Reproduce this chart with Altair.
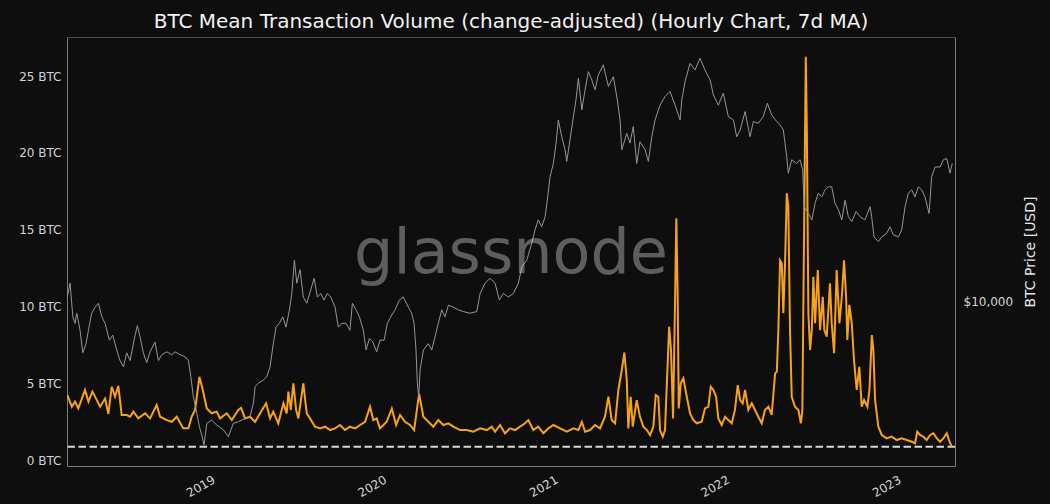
import altair as alt
import pandas as pd

# ---- data ----
title_text = "BTC Mean Transaction Volume (change-adjusted) (Hourly Chart, 7d MA)"
watermark = ["glassnode"]
year_ticks = [2019, 2020, 2021, 2022, 2023]
btc_ticks = [0, 5, 10, 15, 20, 25]
price_ticks = [10000]
baseline_btc = [0.87]

# mean transaction volume (BTC), decimal year
vol_year = [
    2018.162, 2018.188, 2018.207, 2018.226, 2018.265, 2018.285, 2018.308, 2018.334, 2018.353, 2018.382,
    2018.401, 2018.421, 2018.440, 2018.459, 2018.479, 2018.508, 2018.528, 2018.547, 2018.576, 2018.615,
    2018.644, 2018.683, 2018.703, 2018.742, 2018.771, 2018.800, 2018.838, 2018.868, 2018.887, 2018.907,
    2018.932, 2018.952, 2018.975, 2019.004, 2019.033, 2019.052, 2019.092, 2019.121, 2019.159, 2019.175,
    2019.198, 2019.227, 2019.257, 2019.286, 2019.321, 2019.344, 2019.363, 2019.392, 2019.422, 2019.441,
    2019.451, 2019.465, 2019.480, 2019.496, 2019.509, 2019.538, 2019.558, 2019.577, 2019.606, 2019.636,
    2019.665, 2019.694, 2019.723, 2019.752, 2019.781, 2019.810, 2019.840, 2019.869, 2019.898, 2019.927,
    2019.946, 2019.966, 2019.985, 2020.024, 2020.054, 2020.079, 2020.102, 2020.131, 2020.160, 2020.184,
    2020.213, 2020.238, 2020.267, 2020.296, 2020.325, 2020.355, 2020.384, 2020.413, 2020.452, 2020.491,
    2020.529, 2020.569, 2020.608, 2020.637, 2020.656, 2020.685, 2020.714, 2020.743, 2020.773, 2020.802,
    2020.831, 2020.850, 2020.879, 2020.908, 2020.938, 2020.967, 2020.996, 2021.035, 2021.074, 2021.113,
    2021.142, 2021.162, 2021.181, 2021.210, 2021.239, 2021.268, 2021.297, 2021.317, 2021.336, 2021.356,
    2021.375, 2021.395, 2021.410, 2021.424, 2021.433, 2021.447, 2021.459, 2021.482, 2021.501, 2021.521,
    2021.541, 2021.560, 2021.579, 2021.593, 2021.608, 2021.618, 2021.634, 2021.647, 2021.671, 2021.682,
    2021.694, 2021.706, 2021.713, 2021.721, 2021.727, 2021.739, 2021.754, 2021.774, 2021.793, 2021.812,
    2021.832, 2021.861, 2021.880, 2021.900, 2021.914, 2021.929, 2021.945, 2021.958, 2021.978, 2021.997,
    2022.016, 2022.036, 2022.055, 2022.071, 2022.085, 2022.100, 2022.114, 2022.133, 2022.153, 2022.172,
    2022.191, 2022.211, 2022.230, 2022.250, 2022.269, 2022.289, 2022.299, 2022.308, 2022.318, 2022.328,
    2022.337, 2022.347, 2022.357, 2022.366, 2022.376, 2022.386, 2022.405, 2022.425, 2022.439, 2022.448,
    2022.458, 2022.468, 2022.474, 2022.483, 2022.493, 2022.503, 2022.512, 2022.522, 2022.538, 2022.551,
    2022.567, 2022.576, 2022.590, 2022.609, 2022.619, 2022.633, 2022.648, 2022.664, 2022.678, 2022.691,
    2022.703, 2022.710, 2022.722, 2022.736, 2022.749, 2022.765, 2022.780, 2022.794, 2022.808, 2022.827,
    2022.839, 2022.853, 2022.862, 2022.872, 2022.891, 2022.911, 2022.940, 2022.969, 2022.998, 2023.027,
    2023.057, 2023.086, 2023.105, 2023.118, 2023.134, 2023.153, 2023.173, 2023.193, 2023.212, 2023.232,
    2023.251, 2023.270, 2023.290, 2023.303, 2023.319,
]
vol_btc = [
    4.23, 3.47, 3.80, 3.36, 4.56, 3.80, 4.45, 3.90, 3.47, 4.00,
    3.00, 4.77, 4.12, 4.82, 2.93, 2.93, 2.82, 3.15, 2.71, 3.04,
    2.71, 3.58, 2.82, 2.60, 2.49, 2.82, 2.06, 2.06, 2.82, 3.26,
    5.42, 4.56, 3.36, 3.04, 3.15, 2.71, 3.04, 2.60, 3.26, 3.40,
    2.71, 2.82, 2.49, 3.04, 3.69, 2.71, 3.15, 2.39, 3.69, 3.04,
    4.45, 3.26, 4.99, 3.26, 2.71, 4.99, 3.04, 2.71, 2.17, 2.06,
    2.17, 1.95, 2.06, 2.28, 1.95, 2.17, 2.06, 2.28, 2.49, 3.47,
    2.60, 2.71, 2.06, 2.49, 3.36, 2.28, 2.93, 2.49, 2.28, 1.95,
    4.30, 2.82, 2.49, 2.17, 2.60, 2.28, 2.39, 2.17, 1.95, 1.95,
    1.84, 2.06, 1.95, 2.17, 1.84, 2.28, 1.74, 2.06, 1.95, 2.17,
    2.39, 2.60, 1.95, 2.17, 1.74, 2.06, 2.28, 2.06, 1.84, 2.06,
    1.95, 2.49, 1.84, 1.95, 2.28, 2.06, 2.82, 4.12, 2.60, 2.39,
    4.56, 5.86, 6.99, 5.21, 2.06, 4.12, 2.17, 3.90, 2.82, 2.17,
    1.95, 1.63, 2.17, 4.23, 4.12, 1.95, 1.52, 1.95, 8.68, 7.16,
    2.71, 10.63, 15.74, 10.60, 3.36, 4.99, 5.32, 4.12, 3.04, 2.60,
    2.39, 2.49, 3.36, 3.47, 4.77, 4.56, 4.12, 2.71, 2.28, 2.82,
    2.60, 2.39, 3.26, 4.88, 3.90, 3.69, 4.56, 3.26, 3.69, 3.26,
    2.82, 2.39, 3.26, 3.47, 2.93, 5.64, 5.75, 8.46, 13.00, 12.80,
    9.55, 12.80, 17.36, 16.50, 8.46, 4.12, 3.47, 3.26, 2.39, 3.26,
    14.97, 26.26, 21.50, 9.55, 7.16, 8.46, 11.93, 8.90, 12.37, 8.46,
    10.63, 8.46, 8.03, 11.50, 8.90, 6.95, 12.37, 8.90, 10.63, 13.00,
    10.63, 7.81, 10.10, 8.90, 6.51, 4.56, 6.07, 3.47, 3.90, 3.47,
    4.56, 8.14, 7.16, 3.90, 2.17, 1.63, 1.41, 1.52, 1.30, 1.41,
    1.30, 1.19, 1.09, 1.84, 1.63, 1.52, 1.30, 1.63, 1.74, 1.41,
    1.19, 1.41, 1.74, 1.30, 0.87,
]

# BTC price (USD), decimal year
price_year = [
    2018.162, 2018.178, 2018.194, 2018.207, 2018.217, 2018.236, 2018.252, 2018.271, 2018.285, 2018.304,
    2018.324, 2018.343, 2018.363, 2018.382, 2018.407, 2018.427, 2018.450, 2018.469, 2018.489, 2018.508,
    2018.528, 2018.551, 2018.570, 2018.586, 2018.605, 2018.625, 2018.644, 2018.673, 2018.693, 2018.713,
    2018.742, 2018.771, 2018.790, 2018.819, 2018.848, 2018.868, 2018.882, 2018.897, 2018.917, 2018.932,
    2018.946, 2018.959, 2018.975, 2019.004, 2019.033, 2019.072, 2019.101, 2019.130, 2019.159, 2019.198,
    2019.227, 2019.247, 2019.257, 2019.276, 2019.305, 2019.325, 2019.344, 2019.363, 2019.379, 2019.398,
    2019.418, 2019.437, 2019.457, 2019.471, 2019.486, 2019.500, 2019.519, 2019.538, 2019.558, 2019.581,
    2019.601, 2019.620, 2019.640, 2019.659, 2019.678, 2019.698, 2019.723, 2019.742, 2019.762, 2019.787,
    2019.810, 2019.824, 2019.845, 2019.865, 2019.888, 2019.904, 2019.923, 2019.943, 2019.966, 2019.985,
    2020.009, 2020.028, 2020.048, 2020.073, 2020.098, 2020.121, 2020.150, 2020.170, 2020.184, 2020.195,
    2020.203, 2020.211, 2020.219, 2020.238, 2020.267, 2020.287, 2020.306, 2020.325, 2020.345, 2020.364,
    2020.384, 2020.413, 2020.442, 2020.471, 2020.510, 2020.549, 2020.569, 2020.598, 2020.627, 2020.656,
    2020.681, 2020.704, 2020.734, 2020.763, 2020.792, 2020.812, 2020.841, 2020.870, 2020.889, 2020.908,
    2020.928, 2020.948, 2020.963, 2020.977, 2020.996, 2021.012, 2021.025, 2021.045, 2021.064, 2021.074,
    2021.093, 2021.113, 2021.128, 2021.142, 2021.162, 2021.181, 2021.200, 2021.220, 2021.239, 2021.258,
    2021.287, 2021.317, 2021.346, 2021.369, 2021.385, 2021.395, 2021.424, 2021.443, 2021.462, 2021.482,
    2021.501, 2021.531, 2021.550, 2021.570, 2021.589, 2021.618, 2021.647, 2021.676, 2021.706, 2021.735,
    2021.745, 2021.764, 2021.793, 2021.822, 2021.851, 2021.880, 2021.910, 2021.929, 2021.958, 2021.987,
    2022.016, 2022.046, 2022.065, 2022.085, 2022.114, 2022.143, 2022.162, 2022.191, 2022.220, 2022.244,
    2022.269, 2022.298, 2022.318, 2022.337, 2022.357, 2022.366, 2022.386, 2022.415, 2022.434, 2022.450,
    2022.458, 2022.483, 2022.503, 2022.522, 2022.541, 2022.561, 2022.580, 2022.600, 2022.619, 2022.638,
    2022.658, 2022.678, 2022.697, 2022.716, 2022.736, 2022.761, 2022.784, 2022.813, 2022.843, 2022.852,
    2022.866, 2022.891, 2022.911, 2022.940, 2022.959, 2022.978, 2023.008, 2023.027, 2023.047, 2023.066,
    2023.086, 2023.105, 2023.124, 2023.144, 2023.163, 2023.187, 2023.202, 2023.222, 2023.251, 2023.270,
    2023.290, 2023.309, 2023.322,
]
price_usd = [
    10400, 11600, 8900, 8450, 9150, 8000, 6700, 7200, 8000, 9150,
    9600, 9900, 8900, 8450, 7400, 7700, 6850, 6300, 6000, 6700,
    6300, 7400, 8300, 7600, 6700, 6200, 6750, 7300, 6300, 6600,
    6750, 6600, 6750, 6600, 6500, 6300, 5550, 4730, 4160, 3740,
    3500, 3240, 3840, 3940, 3790, 3650, 3460, 3840, 3890, 3990,
    4050, 4500, 5130, 5270, 5400, 5550, 6000, 7200, 8200, 8450,
    8900, 8200, 9400, 10700, 13900, 11600, 12900, 10400, 9900, 11000,
    12050, 10400, 10700, 10150, 10700, 10400, 9600, 8200, 8450, 8450,
    8000, 9900, 9400, 8900, 8000, 6850, 7500, 7300, 6750, 7400,
    7400, 8450, 8900, 9400, 10150, 10400, 9600, 9150, 8450, 6850,
    5270, 4730, 5850, 6850, 7200, 6850, 7600, 8450, 9400, 8900,
    9750, 9600, 9400, 9270, 9150, 9270, 10700, 11600, 12050, 11600,
    10150, 10700, 10400, 10700, 11600, 13200, 13900, 15900, 17650, 19100,
    18100, 19600, 22900, 26900, 29800, 35000, 42000, 36800, 33200, 30300,
    35900, 43200, 49200, 58400, 45500, 53300, 61500, 57600, 53300, 59900,
    64900, 54700, 59100, 49200, 42000, 33200, 37800, 35000, 39900, 29800,
    35400, 33200, 30300, 36800, 42000, 47200, 50500, 52600, 47200, 42000,
    49200, 56900, 65600, 62300, 68300, 62300, 57600, 51200, 47200, 51900,
    43200, 42000, 36800, 38800, 44900, 36800, 41500, 40900, 43200, 47900,
    43700, 41500, 40400, 38800, 31400, 27600, 30700, 29800, 30700, 28300,
    21200, 20100, 19100, 21800, 23600, 22900, 24200, 24800, 24800, 21800,
    20700, 19100, 22300, 19600, 18850, 20400, 19600, 19100, 21200, 19600,
    16700, 16100, 16700, 17200, 18100, 17000, 16700, 17650, 21200, 23600,
    24200, 22900, 24800, 24200, 22900, 20100, 26900, 29000, 29000, 30700,
    31000, 27600, 29800,
]

vol_df = pd.DataFrame({"year": vol_year, "btc": vol_btc})
price_df = pd.DataFrame({"year": price_year, "usd": price_usd})
base_df = pd.DataFrame({"btc": baseline_btc})
mark_df = pd.DataFrame({"w": watermark})

FONT = "DejaVu Sans"
LABEL = "#d4d4d4"
DOMAIN = "#7c7c7c"

x_scale = alt.Scale(domain=[2018.16, 2023.338], nice=False, zero=False)
vol_scale = alt.Scale(domain=[-0.39, 27.54], nice=False, zero=False)
price_scale = alt.Scale(type="log", domain=[2744, 80800], nice=False)

x_axis = alt.Axis(
    orient="bottom", values=year_ticks, format="d", labelAngle=330,
    labelAlign="right", labelBaseline="top", labelPadding=8, ticks=False,
    grid=False, title=None, labelFontSize=12, labelColor=LABEL,
    domainColor=DOMAIN, labelFont=FONT, labelOverlap=False,
)
left_axis = alt.Axis(
    values=btc_ticks, labelExpr="datum.value + ' BTC'", orient="left",
    ticks=False, labelPadding=6, grid=False, title=None, labelFontSize=12,
    labelColor=LABEL, domainColor=DOMAIN, labelFont=FONT,
)
right_axis = alt.Axis(
    values=price_ticks, format="$,.0f", orient="right", ticks=False,
    labelPadding=8, grid=False, labelFontSize=12, labelColor=LABEL,
    domainColor=DOMAIN, labelFont=FONT, title="BTC Price [USD]",
    titleAngle=270, titleFontSize=14, titleFontWeight="normal",
    titleColor="#e6e6e6", titleFont=FONT, titleAlign="center",
    titleBaseline="middle", titleX=75, titleY=214.5,
)

rule = alt.Chart(base_df).mark_rule(
    color="#d8d8d8", strokeWidth=2, strokeDash=[7.5, 3.5]
).encode(y=alt.Y("btc:Q", scale=vol_scale, axis=None))

vol_line = alt.Chart(vol_df).mark_line(
    color="#f7a21b", strokeWidth=2, clip=True
).encode(
    x=alt.X("year:Q", scale=x_scale, axis=x_axis),
    y=alt.Y("btc:Q", scale=vol_scale, axis=left_axis),
)

price_line = alt.Chart(price_df).mark_line(
    color="#969696", strokeWidth=1, clip=True
).encode(
    x=alt.X("year:Q", scale=x_scale, axis=x_axis),
    y=alt.Y("usd:Q", scale=price_scale, axis=right_axis),
)

wm = alt.Chart(mark_df).mark_text(
    font=FONT, fontSize=62, color="#ffffff", opacity=0.33,
    align="center", baseline="alphabetic",
).encode(x=alt.value(444), y=alt.value(236), text="w:N")

chart = (
    alt.layer(rule, vol_line, price_line, wm)
    .resolve_scale(y="independent")
    .properties(
        width=888,
        height=429,
        padding={"left": 67, "top": 37, "right": 95, "bottom": 38},
        autosize=alt.AutoSizeParams(type="none"),
        title=alt.TitleParams(
            text=title_text, fontSize=20, font=FONT, color="#f2f2f2",
            fontWeight="normal", anchor="middle", frame="group",
            baseline="alphabetic", offset=10, dy=21,
        ),
    )
    .configure(font=FONT, background="#0e0e0e")
    .configure_view(stroke="#4a4a4a", strokeWidth=1)
)

chart.save("out.html", embed_options={"renderer": "svg", "actions": False})
